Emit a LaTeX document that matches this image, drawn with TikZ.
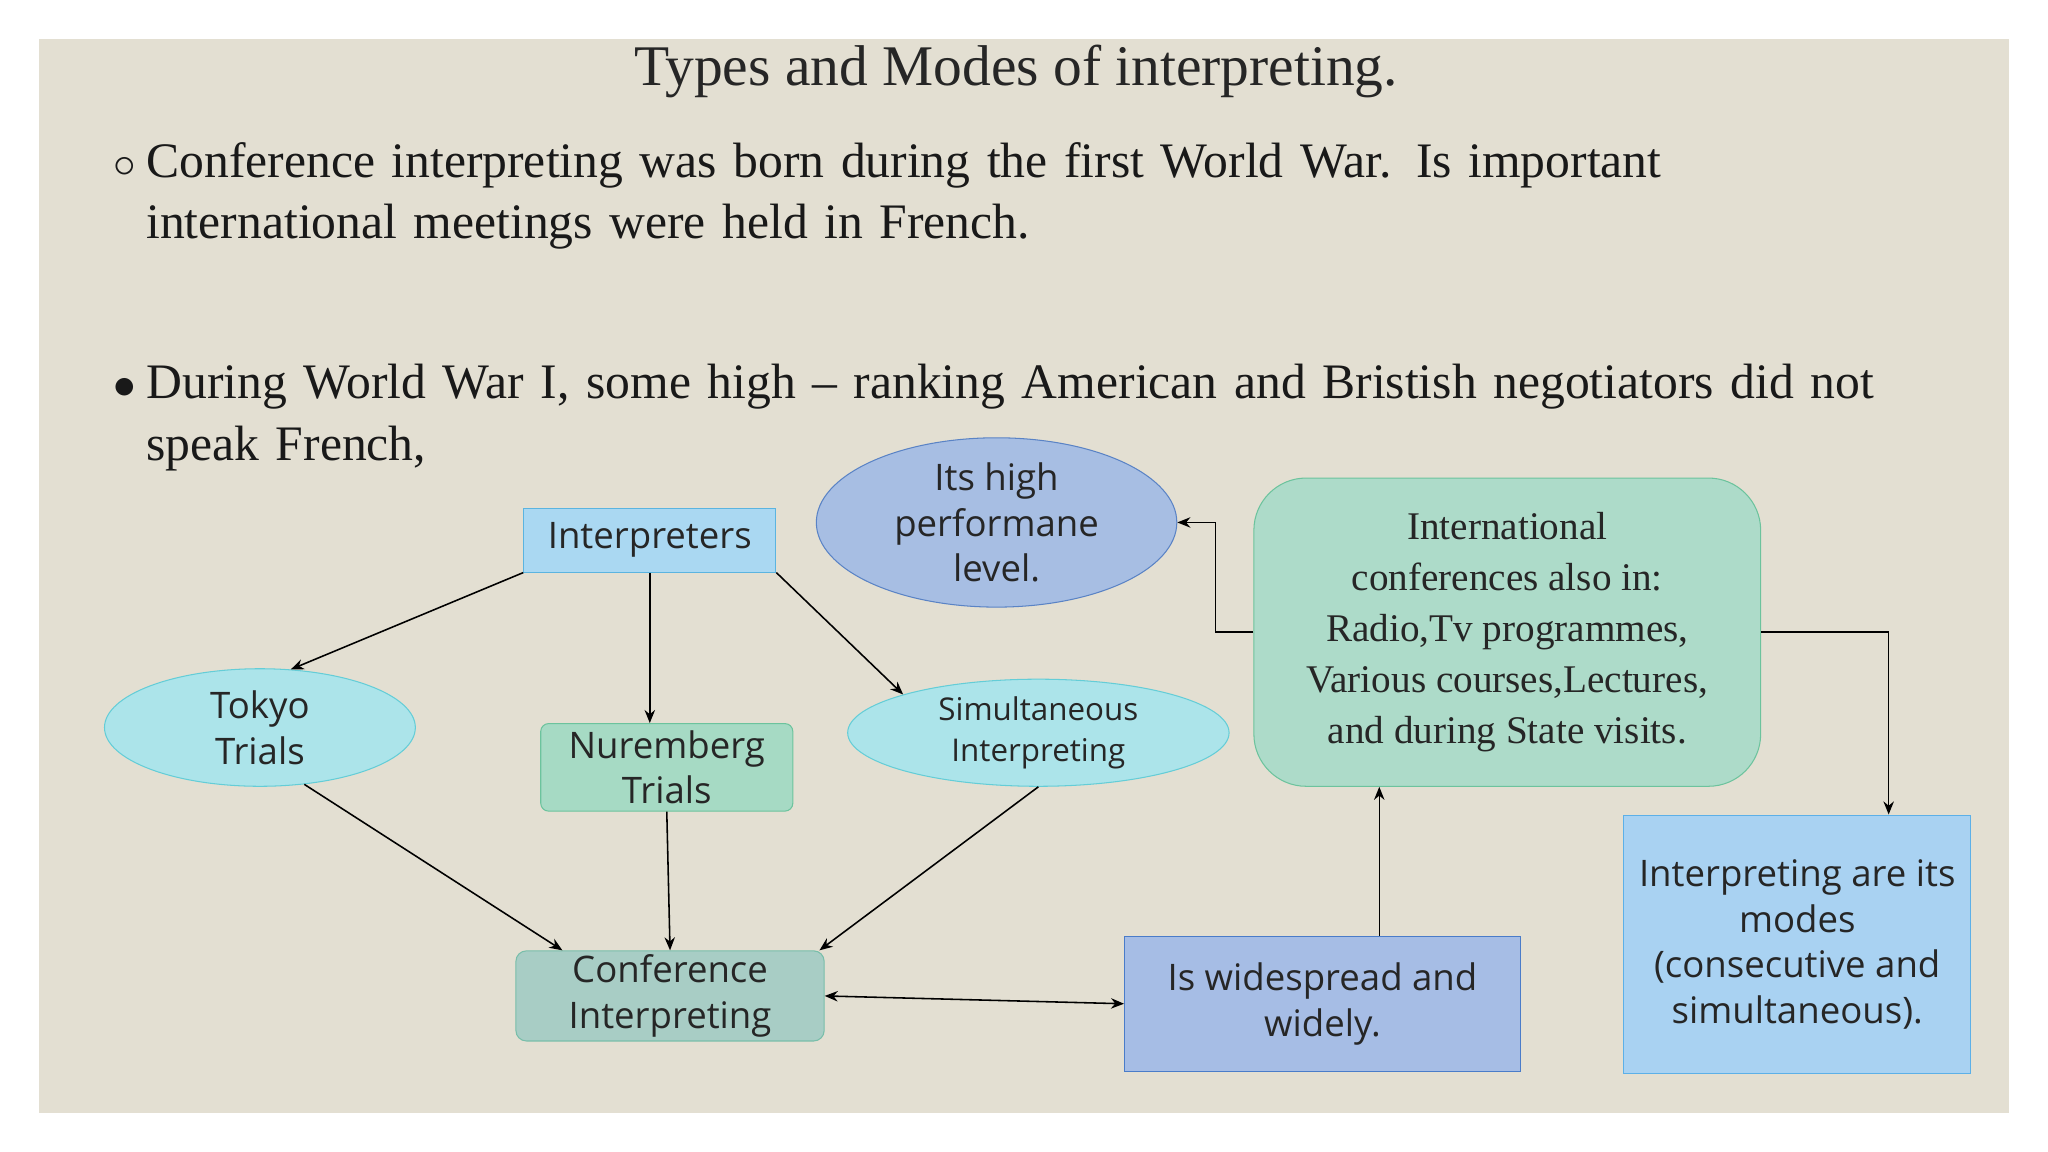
\documentclass[tikz,border=0pt]{standalone}
\usepackage{fontspec}
\setmainfont{Liberation Serif}
\newfontfamily\nodefont{Open Sans}
\usetikzlibrary{shapes.geometric,arrows.meta}
\definecolor{bg}{HTML}{E3DFD2}
\tikzset{
 bx/.style={draw, inner sep=0pt, align=center, font=\nodefont\fontsize{14}{17.5}\selectfont, text=black!85},
 el/.style={bx, ellipse},
 ar/.style={-{Stealth[length=5pt,width=4pt]}, line width=0.6pt},
}
\begin{document}
\begin{tikzpicture}[x=0.5pt,y=-0.5pt]
\useasboundingbox (0,0) rectangle (1568,882);
\fill[white] (0,0) rectangle (1568,882);
\fill[bg] (30,30) rectangle (1538,852);
\node[font=\fontsize{22}{26}\selectfont, text=black!85] (title) at (778,55) {Types and Modes of interpreting.};
\node[anchor=north west, text width=620pt, align=left, font=\fontsize{19}{23.5}\selectfont, text=black!90] (b1) at (80,102)
 {\makebox[12.5pt][l]{$\circ$}Conference interpreting was born during the first World War. Is important\\\hspace*{12.5pt}international meetings were held in French.};
\node[anchor=north west, text width=720pt, align=left, font=\fontsize{19}{23.5}\selectfont, text=black!90] (b2) at (80,272)
 {\makebox[12.5pt][l]{$\bullet$}During World War I, some high -- ranking American and Bristish negotiators did not\\\hspace*{12.5pt}speak French,};

\node[bx, fill={rgb,255:red,170;green,216;blue,242}, draw={rgb,255:red,91;green,180;blue,224}, minimum width=96.5pt, minimum height=24.5pt] (interp) at (497.5,413.5) {Interpreters};
\node[el, fill={rgb,255:red,172;green,228;blue,234}, draw={rgb,255:red,100;green,205;blue,215}, minimum width=119pt, minimum height=45pt] (tokyo) at (199,557) {Tokyo\\Trials};
\node[bx, rounded corners=3pt, fill={rgb,255:red,166;green,218;blue,196}, draw={rgb,255:red,108;green,195;blue,157}, minimum width=96.5pt, minimum height=33.5pt] (nur) at (510.5,587.5) {Nuremberg\\Trials};
\node[el, fill={rgb,255:red,172;green,228;blue,234}, draw={rgb,255:red,100;green,205;blue,215}, minimum width=146pt, minimum height=41pt, font=\nodefont\fontsize{12}{15.5}\selectfont] (sim) at (795,561) {Simultaneous\\Interpreting};
\node[bx, rounded corners=4pt, fill={rgb,255:red,168;green,205;blue,197}, draw={rgb,255:red,120;green,190;blue,170}, minimum width=118pt, minimum height=34.5pt] (conf) at (513,762.5) {Conference\\Interpreting};
\node[el, fill={rgb,255:red,167;green,190;blue,227}, draw={rgb,255:red,90;green,131;blue,197}, minimum width=138pt, minimum height=50pt] (high) at (763,400) {Its high\\performane\\level.};
\node[bx, rounded corners=20pt, fill={rgb,255:red,173;green,219;blue,201}, draw={rgb,255:red,108;green,195;blue,157}, minimum width=194pt, minimum height=118pt, font=\fontsize{15}{19.5}\selectfont] (intl) at (1154,484) {International\\conferences also in:\\Radio,Tv programmes,\\Various courses,Lectures,\\and during State visits.};
\node[bx, fill={rgb,255:red,166;green,189;blue,229}, draw={rgb,255:red,74;green,124;blue,201}, minimum width=151.5pt, minimum height=51.5pt] (wide) at (1012.5,768.5) {Is widespread and\\widely.};
\node[bx, fill={rgb,255:red,169;green,210;blue,242}, draw={rgb,255:red,92;green,176;blue,232}, minimum width=133pt, minimum height=99pt] (modes) at (1376,723) {Interpreting are its\\modes\\(consecutive and\\simultaneous).};

\draw[ar] (interp.south west) -- (tokyo.62);
\draw[ar] (interp.south) -- (nur.north -| interp.south);
\draw[ar] (interp.south east) -- (sim.north west);
\draw[ar] (tokyo.-52) -- ([xshift=18]conf.north west);
\draw[ar] (nur.south) -- (conf.north);
\draw[ar] (sim.south) -- ([xshift=-2]conf.north east);
\draw[ar, {Stealth[length=5pt,width=4pt]}-{Stealth[length=5pt,width=4pt]}] (conf.east) -- (wide.west);
\draw[ar] (wide.north -| 1056,0) -- (intl.south -| 1056,0);
\draw[ar] (intl.west) -- ++(-29,0) |- (high.east);
\draw[ar] (intl.east) -| (modes.north -| 1446,0);
\end{tikzpicture}
\end{document}
